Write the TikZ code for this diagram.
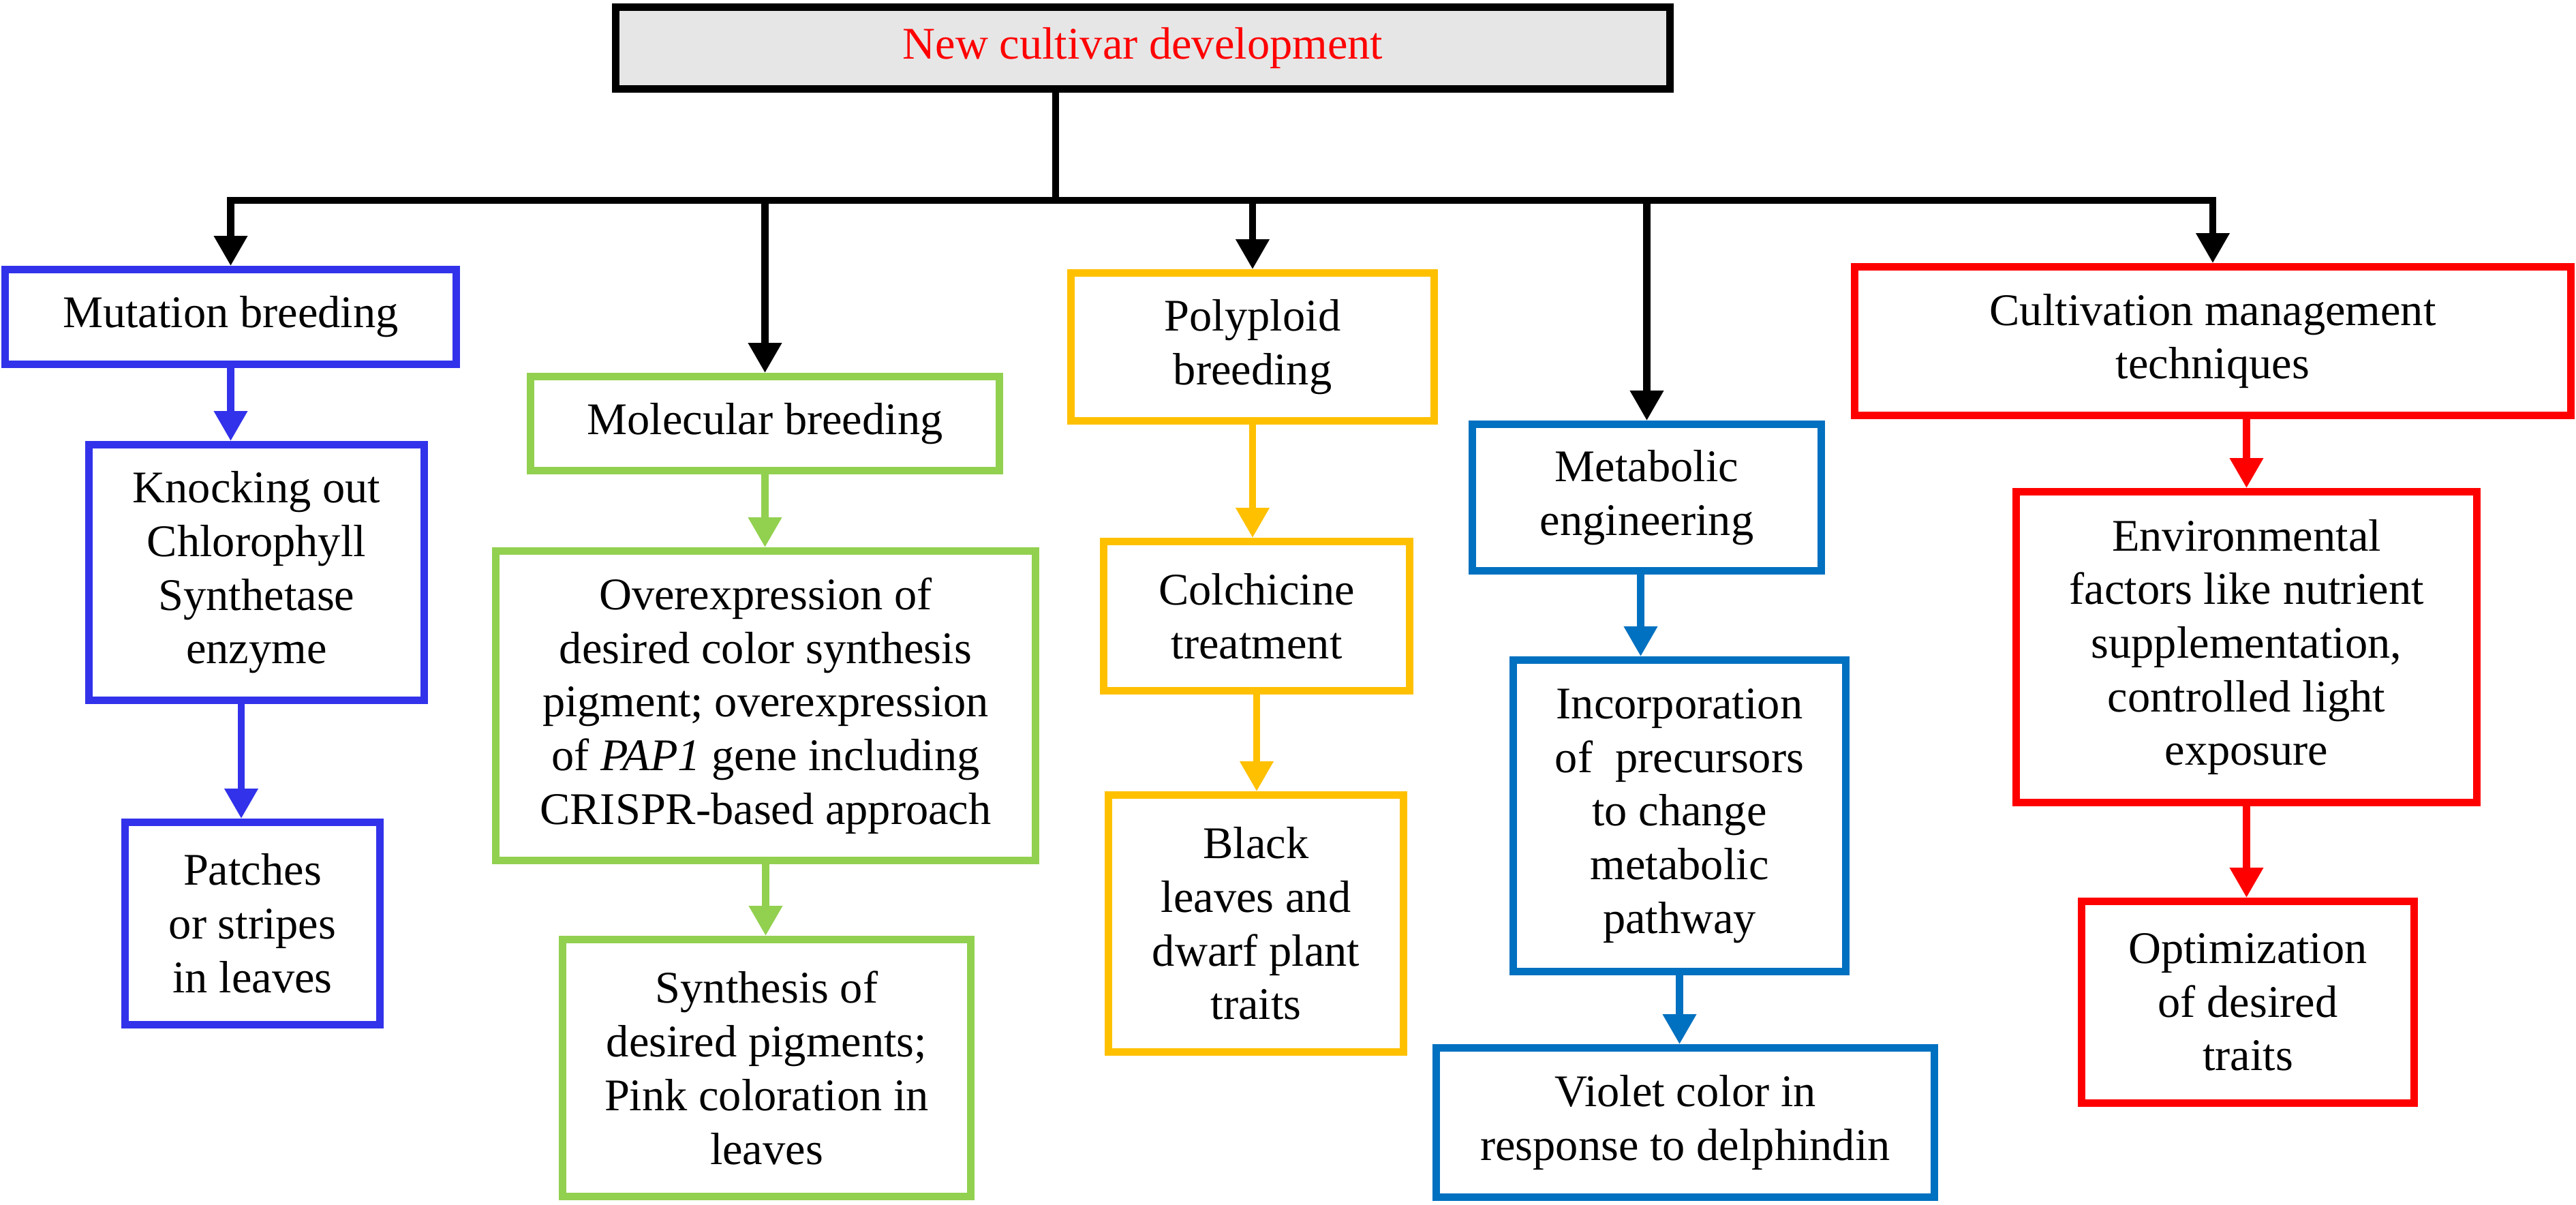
\documentclass[tikz,border=0pt]{standalone}
\usepackage{fontspec}
\setmainfont{Liberation Serif}
\usepackage{tikz}
\usetikzlibrary{
  arrows.meta,
  positioning
}
\definecolor{topgray}{HTML}{E6E6E6}
\definecolor{mutblue}{RGB}{50,50,235}
\definecolor{molgreen}{HTML}{92D050}
\definecolor{polygold}{HTML}{FFC000}
\definecolor{metblue}{HTML}{0070C0}
\definecolor{cultred}{HTML}{FF0000}
\tikzset{
  box/.style={draw, line width=3.1pt, fill=white, align=center, inner sep=0pt,
    font=\fontsize{18.9}{22.4}\selectfont},
  link/.style={line width=2.9pt, -{Triangle[width=0.47cm,length=0.44cm]}}
}

\begin{document}
\begin{tikzpicture}[x=1cm,y=-1cm]
				\useasboundingbox (0,0) rectangle (37.8,17.68);
				\node[box, fill=topgray, minimum width=15.47cm, minimum height=1.2cm] (top) at (16.77,0.705) {\textcolor{cultred}{New cultivar development}};
				\coordinate (split) at (15.49,2.94);
				% branches
				\node[box, draw=mutblue, minimum width=6.62cm, minimum height=1.39cm] (mut) at (3.385,4.65) {Mutation breeding};
				\node[box, draw=mutblue, minimum width=4.92cm, minimum height=3.75cm] (knock) at (3.765,8.4) {Knocking out\\Chlorophyll\\Synthetase\\enzyme};
				\node[box, draw=mutblue, minimum width=3.74cm, minimum height=2.97cm] (patch) at (3.705,13.55) {Patches\\or stripes\\in leaves};
				\node[box, draw=molgreen, minimum width=6.88cm, minimum height=1.38cm] (mol) at (11.225,6.215) {Molecular breeding};
				\node[box, draw=molgreen, minimum width=7.92cm, minimum height=4.54cm] (over) at (11.235,10.355) {Overexpression of\\desired color synthesis\\pigment; overexpression\\of \textit{PAP1} gene including\\CRISPR-based approach};
				\node[box, draw=molgreen, minimum width=5.99cm, minimum height=3.77cm] (synth) at (11.25,15.67) {Synthesis of\\desired pigments;\\Pink coloration in\\leaves};
				\node[box, draw=polygold, minimum width=5.33cm, minimum height=2.17cm] (poly) at (18.38,5.09) {Polyploid\\breeding};
				\node[box, draw=polygold, minimum width=4.49cm, minimum height=2.19cm] (colch) at (18.44,9.04) {Colchicine\\treatment};
				\node[box, draw=polygold, minimum width=4.33cm, minimum height=3.77cm] (black) at (18.43,13.55) {Black\\leaves and\\dwarf plant\\traits};
				\node[box, draw=metblue, minimum width=5.12cm, minimum height=2.15cm] (met) at (24.165,7.3) {Metabolic\\engineering};
				\node[box, draw=metblue, minimum width=4.88cm, minimum height=4.57cm] (incorp) at (24.645,11.97) {Incorporation\\of\ \ precursors\\to change\\metabolic\\pathway};
				\node[box, draw=metblue, minimum width=7.31cm, minimum height=2.19cm] (violet) at (24.73,16.47) {Violet color in\\response to delphindin};
				\node[box, draw=cultred, minimum width=10.51cm, minimum height=2.18cm] (cult) at (32.47,5.005) {Cultivation management\\techniques};
				\node[box, draw=cultred, minimum width=6.76cm, minimum height=4.56cm] (env) at (32.965,9.495) {Environmental\\factors like nutrient\\supplementation,\\controlled light\\exposure};
				\node[box, draw=cultred, minimum width=4.88cm, minimum height=2.96cm] (opt) at (32.985,14.705) {Optimization\\of desired\\traits};
				% connectors
				\draw[line width=2.9pt] (split |- top.south) -- (split);
				\draw[link] (split) -- (mut.north |- split) -- (mut.north);
				\draw[link] (split) -- (cult.north |- split) -- (cult.north);
				\draw[link] (mol.north |- split) -- (mol.north);
				\draw[link] (poly.north |- split) -- (poly.north);
				\draw[link] (met.north |- split) -- (met.north);
				\draw[link, draw=mutblue] (mut.south) -- (mut.south |- knock.north);
				\draw[link, draw=mutblue] ([xshift=-0.225cm]knock.south) -- ([xshift=-0.225cm]knock.south |- patch.north);
				\draw[link, draw=molgreen] (mol.south) -- (mol.south |- over.north);
				\draw[link, draw=molgreen] (over.south) -- (over.south |- synth.north);
				\draw[link, draw=polygold] (poly.south) -- (poly.south |- colch.north);
				\draw[link, draw=polygold] (colch.south) -- (colch.south |- black.north);
				\draw[link, draw=metblue] ([xshift=-0.09cm]met.south) -- ([xshift=-0.09cm]met.south |- incorp.north);
				\draw[link, draw=metblue] (incorp.south) -- (incorp.south |- violet.north);
				\draw[link, draw=cultred] (env.north |- cult.south) -- (env.north);
				\draw[link, draw=cultred] (env.south) -- (env.south |- opt.north);
			\end{tikzpicture}
\end{document}
